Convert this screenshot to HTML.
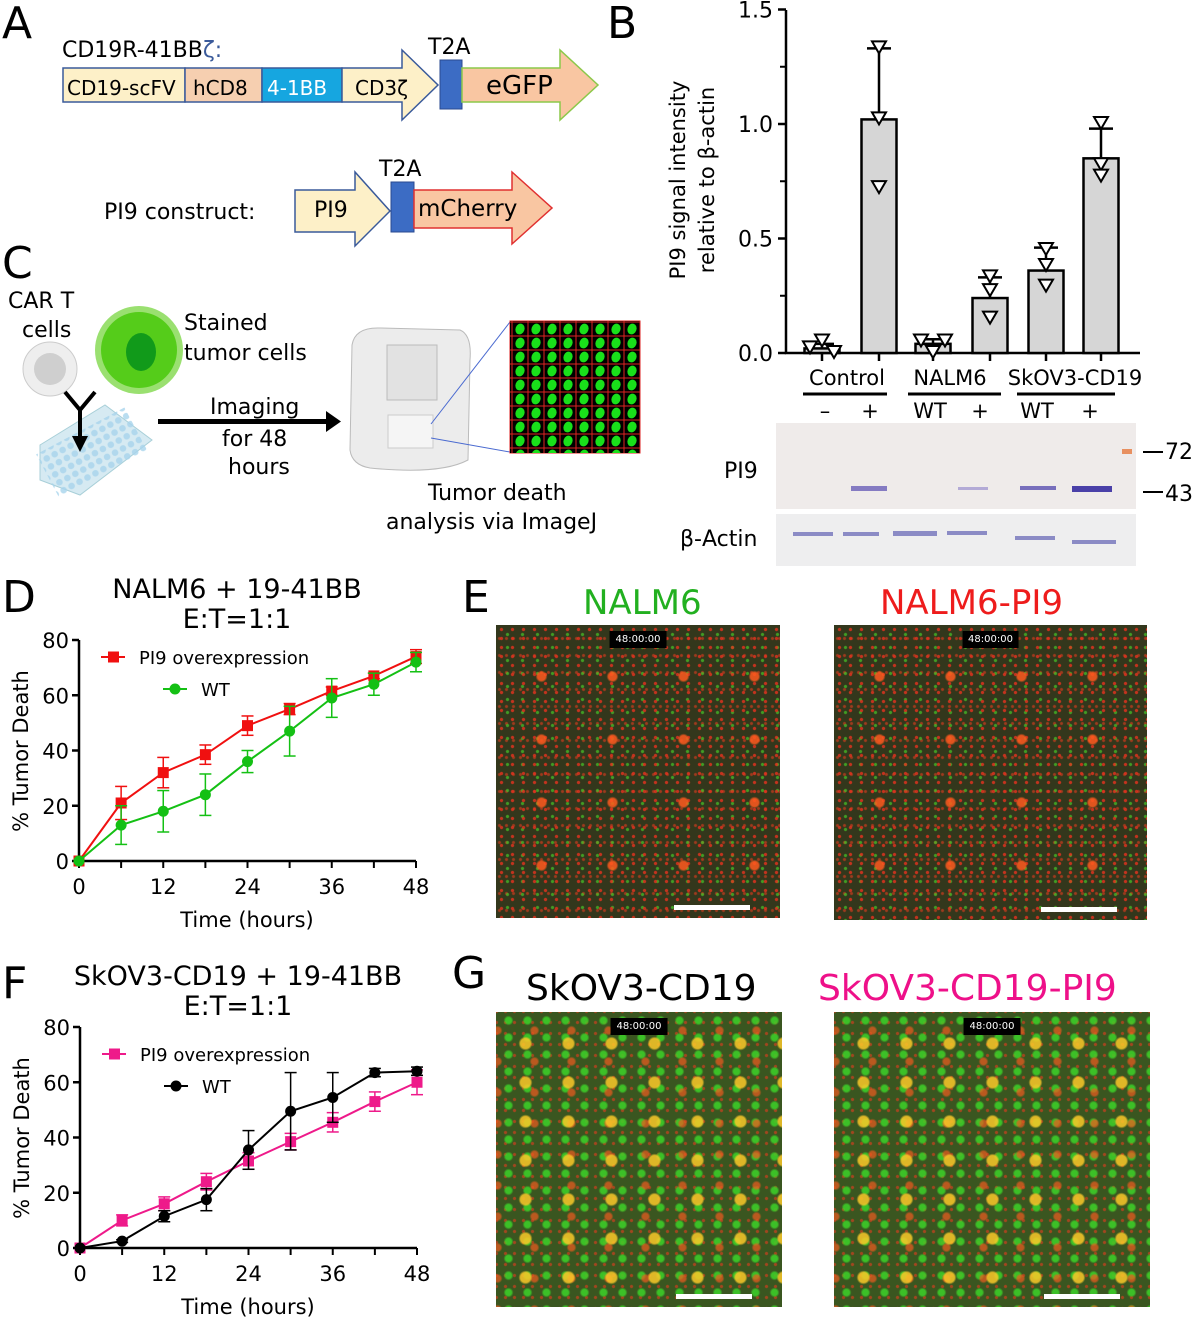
<!DOCTYPE html>
<html><head><meta charset="utf-8">
<style>
html,body{margin:0;padding:0;background:#fff;}
#fig{position:relative;width:1200px;height:1320px;overflow:hidden;font-family:"DejaVu Sans","Liberation Sans",sans-serif;}
svg text{font-family:"DejaVu Sans","Liberation Sans",sans-serif;}
.photo{position:absolute;overflow:hidden;}
.e-photo{background:
 radial-gradient(circle, rgba(255,90,30,.85) 0 4px, transparent 6px) 10px 20px/71px 63px,
 radial-gradient(circle, rgba(230,50,30,.8) 0 1.3px, transparent 2px) 0 0/11px 9px,
 radial-gradient(circle, rgba(70,200,40,.7) 0 1.2px, transparent 2px) 4px 3px/15px 13px,
 radial-gradient(circle, rgba(230,60,30,.6) 0 1px, transparent 2px) 7px 5px/7px 17px,
 #33371c;}
.g-photo{background:
 radial-gradient(circle, rgba(250,200,40,.85) 0 5px, transparent 7px) 8px 12px/43px 39px,
 radial-gradient(circle, rgba(240,90,30,.7) 0 3px, transparent 5px) 20px 3px/37px 31px,
 radial-gradient(circle, rgba(60,210,40,.85) 0 3px, transparent 5px) 3px 0/19px 17px,
 radial-gradient(circle, rgba(230,60,30,.6) 0 1.2px, transparent 2px) 5px 5px/9px 11px,
 #3a5620;}
.stamp{position:absolute;top:6px;left:50%;transform:translateX(-50%);background:#000;color:#fff;font-size:10px;padding:3px 6px;font-family:"DejaVu Sans",sans-serif;}
.sbar{position:absolute;height:5px;background:#fff;bottom:8px;right:30px;width:76px;}
</style></head>
<body>
<div id="fig">
<svg width="1200" height="1320" viewBox="0 0 1200 1320" style="position:absolute;left:0;top:0">
<g font-size="44" fill="#000">
<text x="2" y="38">A</text>
<text x="607" y="38">B</text>
<text x="2" y="278">C</text>
<text x="2" y="612">D</text>
<text x="462" y="612">E</text>
<text x="2" y="998">F</text>
<text x="452" y="988">G</text>
</g>
<g>
<text x="62" y="57" font-size="22">CD19R-41BB<tspan fill="#3a5a9a">ζ:</tspan></text>
<rect x="63" y="68" width="122" height="34" fill="#fdf0c8" stroke="#3a5a9a" stroke-width="1.5"/>
<rect x="185" y="68" width="77" height="34" fill="#f6cfb0" stroke="#3a5a9a" stroke-width="1.5"/>
<rect x="262" y="68" width="80" height="34" fill="#16a6e0" stroke="#3a5a9a" stroke-width="1.5"/>
<path d="M342 68 H402 V50 L438 85 L402 120 V102 H342 Z" fill="#fdf0c8" stroke="#3a5a9a" stroke-width="1.5"/>
<rect x="440" y="60" width="22" height="49" fill="#3c6cc4" stroke="#2a4a90"/>
<path d="M462 68 H560 V50 L598 85 L560 120 V102 H462 Z" fill="#f9c6a2" stroke="#8cc84a" stroke-width="1.5"/>
<g font-size="20"><text x="67" y="95">CD19-scFV</text><text x="193" y="95">hCD8</text><text x="267" y="95" fill="#fff">4-1BB</text><text x="355" y="95">CD3ζ</text></g>
<text x="486" y="94" font-size="26">eGFP</text>
<text x="428" y="54" font-size="22">T2A</text>
</g>
<g>
<text x="104" y="219" font-size="22">PI9 construct:</text>
<path d="M295 190 H355 V172 L390 211 L355 246 V232 H295 Z" fill="#fdf0c8" stroke="#3a5a9a" stroke-width="1.5"/>
<rect x="391" y="182" width="23" height="50" fill="#3c6cc4" stroke="#2a4a90"/>
<path d="M414 190 H512 V172 L552 208 L512 244 V228 H414 Z" fill="#f9c6a2" stroke="#e03030" stroke-width="1.5"/>
<text x="314" y="217" font-size="22">PI9</text>
<text x="418" y="216" font-size="23">mCherry</text>
<text x="379" y="176" font-size="22">T2A</text>
</g>
<g>
<text x="8" y="308" font-size="22">CAR T</text><text x="22" y="337" font-size="22">cells</text>
<circle cx="50" cy="369" r="27" fill="#eee" stroke="#ccc"/>
<circle cx="50" cy="369" r="16" fill="#cfcfcf"/>
<circle cx="139" cy="350" r="44" fill="#9ae070"/>
<circle cx="139" cy="350" r="38" fill="#55cc1a"/>
<ellipse cx="141" cy="352" rx="15" ry="19" fill="#119a1a"/>
<text x="184" y="330" font-size="22">Stained</text><text x="184" y="360" font-size="22">tumor cells</text>
<path d="M40 445 L105 405 L152 440 L80 495 L40 480 Z" fill="#d6eaf2" stroke="#a8cfd8"/>
<rect x="42" y="428" width="100" height="50" fill="url(#wellpat)" transform="rotate(-28 92 453)" opacity=".8"/>
<path d="M65 392 L80 410 L95 392 M80 410 V442" stroke="#000" stroke-width="4" fill="none"/>
<path d="M72 436 L80 452 L88 436 Z" fill="#000"/>
<text x="210" y="414" font-size="22">Imaging</text><text x="222" y="446" font-size="22">for 48</text><text x="228" y="474" font-size="22">hours</text>
<rect x="158" y="419" width="170" height="5" fill="#000"/><path d="M326 411 L341 421.5 L326 432 Z" fill="#000"/>
<path d="M352 345 Q355 327 380 328 L460 330 Q472 335 470 360 L468 460 Q440 475 370 468 Q352 465 350 450 Z" fill="#ececec" stroke="#bbb"/>
<rect x="387" y="345" width="50" height="55" fill="#e2e2e2" stroke="#bbb"/>
<rect x="388" y="415" width="45" height="33" fill="#f5f5f5" stroke="#ccc"/>
<line x1="431" y1="424" x2="510" y2="322" stroke="#4a6ad0"/><line x1="431" y1="438" x2="510" y2="452" stroke="#4a6ad0"/>
<rect x="510" y="321" width="130" height="132" fill="#000" stroke="#d22"/>
<rect x="510" y="321" width="130" height="132" fill="url(#cellpat)"/>
<text x="428" y="500" font-size="22">Tumor death</text><text x="386" y="529" font-size="22">analysis via ImageJ</text>
</g>
<defs>
<pattern id="cellpat" width="16" height="14" patternUnits="userSpaceOnUse"><rect width="16" height="14" fill="#000" stroke="#d22" stroke-width="1"/><ellipse cx="8" cy="7" rx="4.5" ry="5.5" fill="#19e01a" transform="rotate(20 8 7)"/></pattern>
<pattern id="wellpat" width="9" height="9" patternUnits="userSpaceOnUse"><circle cx="4.5" cy="4.5" r="3.3" fill="#a8d4ec"/></pattern>
</defs>
<g id="chartB"></g>
<g>
<rect x="776" y="423" width="360" height="86" fill="#efebea"/>
<rect x="776" y="514" width="360" height="52" fill="#eeeeef"/>
<text x="724" y="478" font-size="22">PI9</text>
<text x="680" y="546" font-size="22">β-Actin</text>
<text x="1165" y="459" font-size="22">72</text><line x1="1143" y1="452" x2="1163" y2="452" stroke="#000" stroke-width="2"/>
<text x="1165" y="501" font-size="22">43</text><line x1="1143" y1="492" x2="1163" y2="492" stroke="#000" stroke-width="2"/>
<rect x="851" y="486" width="36" height="5" fill="#6a5fb8" opacity=".8"/>
<rect x="958" y="487" width="30" height="3" fill="#8a7fc8" opacity=".6"/>
<rect x="1020" y="486" width="36" height="4" fill="#5a50b0" opacity=".8"/>
<rect x="1072" y="486" width="40" height="6" fill="#4a40a8"/>
<rect x="1122" y="449" width="10" height="5" fill="#e89060"/>
<g fill="#6a6ab8" opacity=".75"><rect x="793" y="532" width="40" height="4"/><rect x="843" y="532" width="36" height="4"/><rect x="893" y="531" width="44" height="5"/><rect x="947" y="531" width="40" height="4"/><rect x="1015" y="536" width="40" height="4"/><rect x="1072" y="540" width="44" height="4"/></g>
</g>
<g id="chartD"></g>
<g id="chartF"></g>
<text x="583" y="614" font-size="34" fill="#22b020">NALM6</text>
<text x="880" y="614" font-size="34" fill="#ee1c1c">NALM6-PI9</text>
<text x="526" y="1000" font-size="36" fill="#000">SkOV3-CD19</text>
<text x="818" y="1000" font-size="36" fill="#ee1089">SkOV3-CD19-PI9</text>
</svg>
<div class="photo e-photo" style="left:496px;top:625px;width:284px;height:293px"><div class="stamp">48:00:00</div><div class="sbar"></div></div>
<div class="photo e-photo" style="left:834px;top:625px;width:313px;height:295px"><div class="stamp">48:00:00</div><div class="sbar"></div></div>
<div class="photo g-photo" style="left:496px;top:1012px;width:286px;height:295px"><div class="stamp">48:00:00</div><div class="sbar"></div></div>
<div class="photo g-photo" style="left:834px;top:1012px;width:316px;height:295px"><div class="stamp">48:00:00</div><div class="sbar"></div></div>
</div>
<script>
const NS="http://www.w3.org/2000/svg";
// Panel B data
const bCategories=["Control -","Control +","NALM6 WT","NALM6 +","SkOV3 WT","SkOV3 +"];
const bMeans=[0.02,1.02,0.04,0.24,0.36,0.85];
const bErrTop=[0.04,1.33,0.06,0.33,0.46,0.98];
const bPoints=[[0.02,0.05,0.0],[1.33,1.02,0.72],[0.05,0.0,0.05],[0.33,0.27,0.15],[0.45,0.38,0.29],[1.0,0.82,0.77]];
const bTicks=[0,0.5,1.0,1.5];
// Panel D data
const hours=[0,6,12,18,24,30,36,42,48];
const dPI9=[0,21,32,38.5,49,55,61.5,67,74];
const dPI9Err=[0,6,5.5,3.5,3.5,2,1.5,1,2.5];
const dWT=[0,13,18,24,36,47,59,64,72];
const dWTErr=[0,7,7.5,7.5,4,9,7,4,3.5];
// Panel F data
const fPI9=[0,10,16,24,31.5,38.5,45.5,53,60];
const fPI9Err=[0,2,2.5,3,3,3,3.5,3.5,4.5];
const fWT=[0,2.5,11.5,17.5,35.5,49.5,54.5,63.5,64];
const fWTErr=[0,0.5,2,4,7,14,9,1.5,1.5];
const xTicks=[0,12,24,36,48];
const yTicks=[0,20,40,60,80];

function el(tag,attrs,parent){const e=document.createElementNS(NS,tag);for(const k in attrs)e.setAttribute(k,attrs[k]);parent.appendChild(e);return e;}
function txt(s,attrs,parent){const e=el("text",attrs,parent);e.textContent=s;return e;}

(function(){
 const g=document.getElementById("chartB");
 const y=v=>353-v*229; const xs=[822,879,933,990,1046,1101]; const bw=35;
 const ax=el("path",{d:"M786 10 V353 H1140",stroke:"#000","stroke-width":2.5,fill:"none"},g);
 
 
 bTicks.forEach(t=>{el("line",{x1:778,x2:786,y1:y(t),y2:y(t),stroke:"#000","stroke-width":2.5},g);
  txt(t.toFixed(1),{x:773,y:y(t)+8,"font-size":22,"text-anchor":"end"},g);
  el("line",{x1:780,x2:786,y1:y(t+0.25),y2:y(t+0.25),stroke:"#000","stroke-width":2},g);});
 const yl=txt("PI9 signal intensity",{transform:"translate(685,180) rotate(-90)","font-size":21,"text-anchor":"middle"},g);
 txt("relative to β-actin",{transform:"translate(714,180) rotate(-90)","font-size":21,"text-anchor":"middle"},g);
 
 
 bMeans.forEach((m,i)=>{
  const r=el("rect",{x:xs[i]-bw/2,y:y(m),width:bw,height:353-y(m),fill:"#d6d6d6",stroke:"#000","stroke-width":2.5},g);
  
  
  el("line",{x1:xs[i],x2:xs[i],y1:y(m),y2:y(bErrTop[i]),stroke:"#000","stroke-width":2.5},g);
  el("line",{x1:xs[i]-12,x2:xs[i]+12,y1:y(bErrTop[i]),y2:y(bErrTop[i]),stroke:"#000","stroke-width":2.5},g);
  el("line",{x1:xs[i],x2:xs[i],y1:353,y2:361,stroke:"#000","stroke-width":2.5},g);
  bPoints[i].forEach((p,j)=>{const cx=xs[i]+((i===0||i===2)?(j-1)*12:0),cy=y(p)-2;
   const t=el("path",{d:`M${cx-7} ${cy-5} H${cx+7} L${cx} ${cy+7} Z`,fill:"#fff",stroke:"#000","stroke-width":2},g);
   
   });
 });
 txt("Control",{x:847,y:385,"font-size":21,"text-anchor":"middle"},g);
 txt("NALM6",{x:950,y:385,"font-size":21,"text-anchor":"middle"},g);
 txt("SkOV3-CD19",{x:1075,y:385,"font-size":21,"text-anchor":"middle"},g);
 [[803,887],[908,1001],[1017,1115]].forEach(s=>el("line",{x1:s[0],x2:s[1],y1:394,y2:394,stroke:"#000","stroke-width":3},g));
 ["–","+","WT","+","WT","+"].forEach((s,i)=>txt(s,{x:[825,870,930,980,1037,1090][i],y:418,"font-size":21,"text-anchor":"middle"},g));
})();

function lineChart(id,x0,y0,title1,series,names,colors,markers,legendY){
 const g=document.getElementById(id);
 const X=h=>x0+h*(337/48), Y=v=>y0-v*(221/80);
 txt(title1,{x:x0+158,y:y0-263,"font-size":27,"text-anchor":"middle"},g);
 txt("E:T=1:1",{x:x0+158,y:y0-233,"font-size":27,"text-anchor":"middle"},g);
 el("path",{d:`M${x0} ${Y(80)} V${y0} H${X(48)}`,stroke:"#000","stroke-width":2.5,fill:"none"},g);
 yTicks.forEach(t=>{el("line",{x1:x0-7,x2:x0,y1:Y(t),y2:Y(t),stroke:"#000","stroke-width":2.5},g);
  txt(String(t),{x:x0-10,y:Y(t)+8,"font-size":21,"text-anchor":"end"},g);});
 hours.forEach(h=>el("line",{x1:X(h),x2:X(h),y1:y0,y2:y0+7,stroke:"#000","stroke-width":2},g));
 xTicks.forEach(t=>txt(String(t),{x:X(t),y:y0+33,"font-size":21,"text-anchor":"middle"},g));
 txt("Time (hours)",{x:x0+168,y:y0+66,"font-size":21,"text-anchor":"middle"},g);
 txt("% Tumor Death",{transform:`translate(${x0-51},${y0-110}) rotate(-90)`,"font-size":21,"text-anchor":"middle"},g);
 series.forEach((s,k)=>{
  const vals=s[0],errs=s[1],c=colors[k];
  const ln=el("polyline",{points:vals.map((v,i)=>X(hours[i])+","+Y(v)).join(" "),fill:"none",stroke:c,"stroke-width":2},g);
  
  
  vals.forEach((v,i)=>{const cx=X(hours[i]),cy=Y(v);
   if(errs[i]>0){el("line",{x1:cx,x2:cx,y1:Y(v-errs[i]),y2:Y(v+errs[i]),stroke:c,"stroke-width":1.5},g);
    [v-errs[i],v+errs[i]].forEach(e=>el("line",{x1:cx-6,x2:cx+6,y1:Y(e),y2:Y(e),stroke:c,"stroke-width":1.5},g));}
   const m=markers[k]==="sq"?el("rect",{x:cx-5.5,y:cy-5.5,width:11,height:11,fill:c},g):el("circle",{cx:cx,cy:cy,r:5.5,fill:c},g);
   
   });
 });
 [["PI9 overexpression",0],["WT",1]].forEach(([lab,k],j)=>{
  const lx=j===0?x0+22:x0+84, ly=legendY+j*32;
  el("line",{x1:lx,x2:lx+24,y1:ly,y2:ly,stroke:colors[k],"stroke-width":2},g);
  const m=markers[k]==="sq"?el("rect",{x:lx+7,y:ly-5.5,width:11,height:11,fill:colors[k]},g):el("circle",{cx:lx+12,cy:ly,r:5.5,fill:colors[k]},g);
  
  
  txt(lab,{x:lx+38,y:ly+7,"font-size":18},g);
 });
}
lineChart("chartD",79,861,"NALM6 + 19-41BB",[[dPI9,dPI9Err],[dWT,dWTErr]],["pi9","wt"],["#f01010","#14c014"],["sq","ci"],657);
lineChart("chartF",80,1248,"SkOV3-CD19 + 19-41BB",[[fPI9,fPI9Err],[fWT,fWTErr]],["pi9","wt"],["#ee1a8a","#000"],["sq","ci"],1054);
</script>
</body></html>
